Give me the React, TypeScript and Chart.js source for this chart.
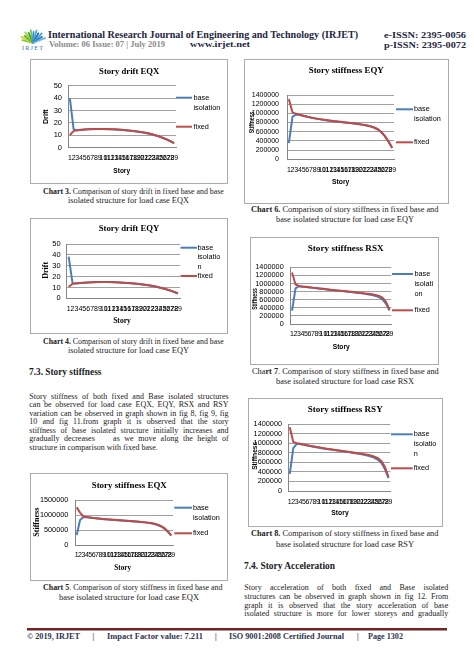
import React, { useEffect, useLayoutEffect, useRef, useState } from "react";
import { Chart, registerables } from "chart.js";

Chart.register(...registerables);

// ---------------- DATA ----------------
const STORIES = ["1","2","3","4","5","6","7","8","9","10","11","12","13","14","15","16","17","18","19","20","21","22","23","24","25","26","27","28","29"];
const SERIES_NAMES = ["base isolation", "fixed"];

const DRIFT_EQX_BASE = [40.0, 15.0, 14.0, 14.3, 14.6, 14.8, 14.9, 15.0, 15.0, 15.0, 14.9, 14.8, 14.7, 14.5, 14.3, 14.0, 13.7, 13.4, 13.0, 12.6, 12.1, 11.5, 10.8, 9.9, 8.9, 7.8, 6.6, 5.2, 3.5];
const DRIFT_EQX_FIXED = [10.2, 13.4, 14.0, 14.4, 14.7, 14.9, 15.0, 15.1, 15.1, 15.1, 15.0, 14.9, 14.8, 14.6, 14.4, 14.1, 13.8, 13.5, 13.1, 12.7, 12.2, 11.6, 10.9, 10.0, 9.0, 7.9, 6.7, 5.3, 3.6];

const DRIFT_EQY_BASE = [38.3, 13.8, 13.7, 14.0, 14.3, 14.5, 14.7, 14.8, 14.9, 14.9, 14.9, 14.8, 14.7, 14.5, 14.3, 14.1, 13.8, 13.5, 13.1, 12.7, 12.2, 11.6, 10.9, 10.1, 9.2, 8.2, 7.1, 5.8, 4.4];
const DRIFT_EQY_FIXED = [10.6, 13.3, 13.8, 14.1, 14.4, 14.6, 14.8, 14.9, 15.0, 15.0, 15.0, 14.9, 14.8, 14.6, 14.4, 14.2, 13.9, 13.6, 13.2, 12.8, 12.3, 11.7, 11.0, 10.2, 9.3, 8.3, 7.2, 5.9, 4.5];

const STIFF_EQX_BASE = [333000, 833000, 935000, 925000, 911000, 897000, 885000, 873000, 862000, 852000, 843000, 835000, 827000, 819000, 811000, 803000, 795000, 786000, 776000, 766000, 754000, 740000, 723000, 700000, 667000, 618000, 545000, 440000, 315000];
const STIFF_EQX_FIXED = [1255000, 1080000, 950000, 930000, 915000, 900000, 888000, 876000, 865000, 855000, 846000, 838000, 830000, 822000, 814000, 806000, 798000, 789000, 780000, 770000, 759000, 746000, 730000, 708000, 676000, 628000, 555000, 450000, 322000];

const STIFF_EQY_BASE = [350000, 930000, 975000, 963000, 944000, 925000, 907000, 891000, 877000, 864000, 852000, 841000, 831000, 821000, 812000, 803000, 794000, 785000, 775000, 764000, 752000, 737000, 719000, 692000, 655000, 595000, 505000, 385000, 245000];
const STIFF_EQY_FIXED = [1310000, 1020000, 990000, 968000, 948000, 928000, 910000, 894000, 880000, 867000, 855000, 844000, 834000, 824000, 815000, 806000, 797000, 788000, 778000, 767000, 755000, 740000, 722000, 697000, 660000, 600000, 510000, 390000, 250000];

const STIFF_RSX_BASE = [330000, 880000, 932000, 922000, 912000, 902000, 892000, 882000, 872000, 862000, 852000, 842000, 833000, 824000, 815000, 806000, 797000, 787000, 777000, 767000, 756000, 744000, 730000, 714000, 693000, 660000, 600000, 500000, 335000];
const STIFF_RSX_FIXED = [1270000, 975000, 940000, 928000, 918000, 908000, 898000, 888000, 878000, 868000, 858000, 848000, 839000, 830000, 821000, 812000, 803000, 794000, 785000, 776000, 766000, 756000, 745000, 733000, 718000, 695000, 645000, 545000, 355000];

const STIFF_RSY_BASE = [360000, 900000, 990000, 982000, 968000, 953000, 939000, 925000, 912000, 899000, 887000, 875000, 864000, 853000, 843000, 833000, 822000, 811000, 799000, 787000, 774000, 759000, 742000, 722000, 695000, 655000, 585000, 455000, 270000];
const STIFF_RSY_FIXED = [1340000, 1030000, 1005000, 990000, 975000, 960000, 946000, 932000, 919000, 906000, 894000, 882000, 871000, 861000, 851000, 841000, 831000, 821000, 810000, 799000, 787000, 774000, 760000, 744000, 722000, 690000, 625000, 500000, 290000];

// ---------------- STYLE ----------------
const SANS = '"Liberation Sans", Arial, sans-serif';
const SERIF = '"Liberation Serif", "Times New Roman", serif';
const BLUE = "#4a7ebb";
const RED = "#be4b48";

type Row = [string, number];
interface Spec {
  box: [number, number, number, number];
  plot: [number, number, number, number];
  title: [string, number, number, number];
  xTitle: [string, number, number, number, string];
  yTitle: [string, number, number, number, string];
  legend: { x1: number; x2: number; tx: number; base: Row[]; fixed: Row[] };
  yMax: number;
  yStep: number;
  tickSize: number;
  yPad: number;
  xPad: number;
  base: number[];
  fixed: number[];
}

const CHARTS: Spec[] = [
  {
    box: [30, 59, 228, 184], plot: [68, 85.7, 176, 147.7],
    title: ["Story drift EQX", 129.2, 71.3, 60.3],
    xTitle: ["Story", 121.7, 170.7, 16.7, SANS], yTitle: ["Drift", 46, 116.7, 14.7, SANS],
    legend: { x1: 176, x2: 192, tx: 193.5, base: [["base", 97.7], ["isolation", 107.7]], fixed: [["fixed", 126.7]] },
    yMax: 50, yStep: 10, tickSize: 7.5, yPad: 6, xPad: 6.5, base: DRIFT_EQX_BASE, fixed: DRIFT_EQX_FIXED,
  },
  {
    box: [30, 218, 228, 334], plot: [66.7, 244, 180, 298.3],
    title: ["Story drift EQY", 129, 229, 60.6],
    xTitle: ["Story", 122, 320.7, 17.7, SERIF], yTitle: ["Drift", 46, 270.3, 17, SERIF],
    legend: { x1: 180.5, x2: 197, tx: 197.5, base: [["base", 247.7], ["isolatio", 257.3], ["n", 267]], fixed: [["fixed", 276]] },
    yMax: 50, yStep: 10, tickSize: 7.5, yPad: 6, xPad: 6.2, base: DRIFT_EQY_BASE, fixed: DRIFT_EQY_FIXED,
  },
  {
    box: [30, 473, 228, 581], plot: [75, 500, 173, 545],
    title: ["Story stiffness EQX", 129.2, 485.7, 75],
    xTitle: ["Story", 122.7, 567.7, 16.7, SERIF], yTitle: ["Stiffness", 37, 522.2, 29, SERIF],
    legend: { x1: 174.3, x2: 192, tx: 193, base: [["base", 507.7], ["isolation", 517.7]], fixed: [["fixed", 533.3]] },
    yMax: 1500000, yStep: 500000, tickSize: 7.3, yPad: 6.7, xPad: 6.2, base: STIFF_EQX_BASE, fixed: STIFF_EQX_FIXED,
  },
  {
    box: [244, 59, 449, 204], plot: [287, 95, 394, 159.3],
    title: ["Story stiffness EQY", 346.2, 70.7, 75],
    xTitle: ["Story", 340.7, 181.7, 17.3, SANS], yTitle: ["Stiffness", 252.3, 122.5, 21.7, SANS],
    legend: { x1: 396, x2: 413, tx: 414, base: [["base", 109.3], ["isolation", 118.7]], fixed: [["fixed", 142.3]] },
    yMax: 1400000, yStep: 200000, tickSize: 7, yPad: 8, xPad: 6.9, base: STIFF_EQY_BASE, fixed: STIFF_EQY_FIXED,
  },
  {
    box: [250, 237, 439, 365], plot: [290.3, 267.3, 391.3, 324],
    title: ["Story stiffness RSX", 345.7, 249, 76],
    xTitle: ["Story", 341.2, 346.7, 17, SANS], yTitle: ["Stiffness", 254.8, 299, 21.7, SANS],
    legend: { x1: 392, x2: 413, tx: 414.5, base: [["base", 274], ["isolati", 283.7], ["on", 293.7]], fixed: [["fixed", 310.3]] },
    yMax: 1400000, yStep: 200000, tickSize: 7.3, yPad: 6.6, xPad: 5.5, base: STIFF_RSX_BASE, fixed: STIFF_RSX_FIXED,
  },
  {
    box: [248, 398, 443, 527], plot: [288, 424.3, 390.3, 491],
    title: ["Story stiffness RSY", 345.2, 410, 75],
    xTitle: ["Story", 340, 513.3, 17.4, SANS], yTitle: ["Stiffness", 254.8, 455.8, 28, SANS],
    legend: { x1: 391, x2: 412.7, tx: 413.7, base: [["base", 434.3], ["isolatio", 444], ["n", 453.7]], fixed: [["fixed", 468.3]] },
    yMax: 1400000, yStep: 200000, tickSize: 7.3, yPad: 6, xPad: 6.9, base: STIFF_RSY_BASE, fixed: STIFF_RSY_FIXED,
  },
];

// ---------------- CHART ----------------
function fitCanvasText(ctx: CanvasRenderingContext2D, text: string, cx: number, cy: number, w: number, font: string, rot = 0) {
  ctx.save();
  ctx.font = font;
  const m = ctx.measureText(text).width || 1;
  ctx.translate(cx, cy);
  if (rot) ctx.rotate(rot);
  ctx.scale(w / m, 1);
  ctx.textAlign = "center";
  ctx.textBaseline = "middle";
  ctx.fillStyle = "#000";
  ctx.fillText(text, 0, 0);
  ctx.restore();
}

function ChartBox({ spec, idx }: { spec: Spec; idx: number }) {
  const ref = useRef<HTMLCanvasElement>(null);
  const [bl, bt, br, bb] = spec.box;
  const W = br - bl;
  const H = bb - bt;
  useEffect(() => {
    const [pl, pt, pr, pb] = spec.plot;
    const decor = {
      id: "excelDecor" + idx,
      afterDraw(chart: any) {
        const ctx: CanvasRenderingContext2D = chart.ctx;
        const ox = bl, oy = bt;
        const [tt, tcx, tcy, tw] = spec.title;
        fitCanvasText(ctx, tt, tcx - ox, tcy - oy, tw, `bold 8.8px ${SERIF}`);
        const [xt, xcx, xcy, xw, xf] = spec.xTitle;
        fitCanvasText(ctx, xt, xcx - ox, xcy - oy, xw, `bold 7.5px ${xf}`);
        const [yt, ycx, ycy, yl, yf] = spec.yTitle;
        fitCanvasText(ctx, yt, ycx - ox, ycy - oy, yl, `bold 7.5px ${yf}`, -Math.PI / 2);
        const lg = spec.legend;
        const groups: [Row[], string][] = [[lg.base, BLUE], [lg.fixed, RED]];
        ctx.save();
        ctx.font = `7.3px ${SANS}`;
        ctx.textAlign = "left";
        ctx.textBaseline = "middle";
        for (const [rows, col] of groups) {
          ctx.strokeStyle = col;
          ctx.lineWidth = 2;
          ctx.beginPath();
          ctx.moveTo(lg.x1 - ox, rows[0][1] - oy);
          ctx.lineTo(lg.x2 - ox, rows[0][1] - oy);
          ctx.stroke();
          ctx.fillStyle = "#000";
          for (const [t, y] of rows) ctx.fillText(t, lg.tx - ox, y - oy);
        }
        ctx.restore();
      },
    };
    const leftW = pl - bl;
    const bottomH = bb - pb;
    const chart = new Chart(ref.current as HTMLCanvasElement, {
      type: "line",
      data: {
        labels: STORIES,
        datasets: [
          { label: SERIES_NAMES[0], data: spec.base, borderColor: BLUE, backgroundColor: BLUE, borderWidth: 2, pointRadius: 0, tension: 0, fill: false, order: 1 },
          { label: SERIES_NAMES[1], data: spec.fixed, borderColor: RED, backgroundColor: RED, borderWidth: 2, pointRadius: 0, tension: 0, fill: false, order: 0 },
        ],
      },
      options: {
        responsive: false,
        animation: false,
        events: [],
        layout: { padding: { left: 0, top: pt - bt, right: br - pr, bottom: 0 } },
        plugins: { legend: { display: false }, title: { display: false }, tooltip: { enabled: false } },
        scales: {
          x: {
            type: "category",
            offset: true,
            grid: { display: false, drawTicks: false },
            border: { display: true, color: "#868686", width: 1 },
            ticks: { autoSkip: false, maxRotation: 0, minRotation: 0, padding: spec.xPad, color: "#000", font: { size: 7, family: SANS } },
            afterFit: (s: any) => { s.height = bottomH; },
          },
          y: {
            min: 0,
            max: spec.yMax,
            grid: { color: "#a0a0a0", lineWidth: 1, drawTicks: false },
            border: { display: true, color: "#868686", width: 1 },
            ticks: { stepSize: spec.yStep, autoSkip: false, padding: spec.yPad, color: "#000", font: { size: spec.tickSize, family: SANS }, callback: (v: any) => String(v) },
            afterFit: (s: any) => { s.width = leftW; },
          },
        },
      } as any,
      plugins: [decor],
    });
    return () => chart.destroy();
  }, []);
  return (
    <div style={{ position: "absolute", left: bl, top: bt, width: W, height: H, border: "1px solid #ababab", boxSizing: "border-box", background: "#fff" }}>
      <canvas ref={ref} width={W} height={H} style={{ position: "absolute", left: -1, top: -1, width: W, height: H }} />
    </div>
  );
}

// ---------------- TEXT ----------------
type Seg = [string, boolean];
function Txt({ x, y, w, size, segs, family = SERIF, color = "#222", mode = "scale" }: { x: number; y: number; w?: number; size: number; segs: Seg[]; family?: string; color?: string; mode?: string }) {
  const ref = useRef<HTMLSpanElement>(null);
  const [adj, setAdj] = useState<{ ws?: number; sx?: number }>({});
  useLayoutEffect(() => {
    const el = ref.current;
    if (!el || w == null || mode === "none") return;
    const nat = el.getBoundingClientRect().width || 1;
    const text = segs.map((s) => s[0]).join("");
    const spaces = (text.match(/ /g) || []).length;
    if (mode === "justify" && nat < w && spaces > 0) setAdj({ ws: (w - nat) / spaces });
    else setAdj({ sx: w / nat });
  }, []);
  return (
    <div style={{ position: "absolute", left: x, top: y - 0.61 * size, whiteSpace: "pre", fontFamily: family, fontSize: size, lineHeight: `${size * 1.2}px`, color }}>
      <span ref={ref} style={{ display: "inline-block", wordSpacing: adj.ws ? `${adj.ws}px` : undefined, transform: adj.sx ? `scaleX(${adj.sx})` : undefined, transformOrigin: "0 0" }}>
        {segs.map(([t, b], i) => (
          <span key={i} style={{ fontWeight: b ? 700 : 400 }}>{t}</span>
        ))}
      </span>
    </div>
  );
}

const LEFT_PARA = [
  "Story stiffness of both fixed and Base isolated structures",
  "can be observed for load case EQX, EQY, RSX and RSY",
  "variation can be observed in graph shown in fig 8, fig 9, fig",
  "10 and fig 11.from graph it is observed that the story",
  "stiffness of base isolated structure initially increases and",
  "gradually decreases    as we move along the height of",
  "structure in comparison with fixed base.",
];
const LEFT_PARA_Y = [396.7, 405.3, 413.7, 422, 430.7, 439, 447.7];
const RIGHT_PARA = [
  "Story acceleration of both fixed and Base isolated",
  "structures can be observed in graph shown in fig 12. From",
  "graph it is observed that the story acceleration of base",
  "isolated structure is more for lower storeys and gradually",
];
const RIGHT_PARA_Y = [588.3, 597.3, 606, 614.3];

function Logo() {
  const rays = [
    [-165, "#8dc63f"], [-152, "#c8d42a"], [-139, "#5bb246"], [-126, "#a9cf38"], [-113, "#3d9b46"],
    [-100, "#7fc241"], [-87, "#2f8fcf"], [-74, "#55a8dc"], [-61, "#1f6fb5"], [-48, "#4aa3d8"], [-35, "#2a7dc0"], [-22, "#6cb6e2"],
  ] as [number, string][];
  return (
    <svg style={{ position: "absolute", left: 20, top: 26 }} width={26} height={25} viewBox="0 0 26 25">
      {rays.map(([a, c], i) => {
        const r = (a * Math.PI) / 180;
        const len = 11 + (i % 2) * 2;
        return <line key={i} x1={13} x2={13 + Math.cos(r) * len} y1={17} y2={17 + Math.sin(r) * len} stroke={c} strokeWidth={1.8} strokeLinecap="round" />;
      })}
      <text x={2} y={23.5} fontSize={6.2} fontFamily={SERIF} fill="#3a72b8" textLength={21}>IRJET</text>
    </svg>
  );
}

export default function App() {
  const navy = "#1d2540";
  return (
    <div style={{ position: "absolute", left: 0, top: 0, width: 474, height: 670, overflow: "hidden", background: "#fff" }}>
      <Logo />
      <Txt x={48} y={35.5} w={310} size={10.5} color={navy} segs={[["International Research Journal of Engineering and Technology (IRJET)", true]]} />
      <Txt x={384} y={35.5} w={82} size={8.5} color={navy} segs={[["e-ISSN: 2395-0056", true]]} />
      <Txt x={48.5} y={45.3} w={116} size={8} color="#8a8a8a" segs={[["Volume: 06 Issue: 07 | July 2019", true]]} />
      <Txt x={190} y={45.3} w={60} size={8} color={navy} segs={[["www.irjet.net", true]]} />
      <Txt x={384} y={45.3} w={82} size={8.5} color={navy} segs={[["p-ISSN: 2395-0072", true]]} />

      {CHARTS.map((s, i) => (
        <ChartBox key={i} spec={s} idx={i} />
      ))}

      <Txt x={43.3} y={191.7} w={180.7} size={8} segs={[["Chart 3.", true], [" Comparison of story drift in fixed base and base", false]]} />
      <Txt x={68.3} y={201} w={121} size={8} segs={[["isolated structure for load case EQX", false]]} />
      <Txt x={43.3} y={341.7} w={180.7} size={8} segs={[["Chart 4.", true], [" Comparison of story drift in fixed base and base", false]]} />
      <Txt x={68.3} y={351} w={121} size={8} segs={[["isolated structure for load case EQY", false]]} />
      <Txt x={43.3} y={588.3} w={179.4} size={8} segs={[["Chart 5", true], [". Comparison of story stiffness in fixed base and", false]]} />
      <Txt x={59.3} y={597.7} w={140} size={8} segs={[["base isolated structure for load case EQX", false]]} />
      <Txt x={251.3} y={210.3} w={187.4} size={8} segs={[["Chart 6.", true], [" Comparison of story stiffness in fixed base and", false]]} />
      <Txt x={276} y={219.7} w={138} size={8} segs={[["base isolated structure for load case EQY", false]]} />
      <Txt x={252} y={371.7} w={186.7} size={8} segs={[["Cha", false], ["rt 7", true], [". Comparison of story stiffness in fixed base and", false]]} />
      <Txt x={276} y={381.7} w={138} size={8} segs={[["base isolated structure for load case RSX", false]]} />
      <Txt x={251.3} y={534.3} w={187.4} size={8} segs={[["Chart 8.", true], [" Comparison of story stiffness in fixed base and", false]]} />
      <Txt x={276} y={545} w={138} size={8} segs={[["base isolated structure for load case RSY", false]]} />

      <Txt x={29.3} y={372.3} w={72.4} size={9.5} color="#1a1a1a" segs={[["7.3. Story stiffness", true]]} />
      {LEFT_PARA.map((t, i) => (
        <Txt key={"l" + i} x={29.3} y={LEFT_PARA_Y[i]} w={i === LEFT_PARA.length - 1 ? undefined : 199.3} size={8} mode={i === LEFT_PARA.length - 1 ? "none" : "justify"} segs={[[t, false]]} />
      ))}
      <Txt x={244.3} y={566.7} w={91} size={9.5} color="#1a1a1a" segs={[["7.4. Story Acceleration", true]]} />
      {RIGHT_PARA.map((t, i) => (
        <Txt key={"r" + i} x={244.3} y={RIGHT_PARA_Y[i]} w={204} size={8} mode="justify" segs={[[t, false]]} />
      ))}

      <div style={{ position: "absolute", left: 27, top: 627.8, width: 420, height: 2.4, background: "#7b1f22", boxShadow: "0 1px 0 #9a9a9a" }} />
      <Txt x={27} y={636.7} w={53} size={7.5} color="#2f3550" segs={[["© 2019, IRJET", true]]} />
      <Txt x={92.5} y={636.7} size={7.5} color="#2f3550" mode="none" segs={[["|", true]]} />
      <Txt x={107} y={636.7} w={96} size={7.5} color="#2f3550" segs={[["Impact Factor value: 7.211", true]]} />
      <Txt x={215} y={636.7} size={7.5} color="#2f3550" mode="none" segs={[["|", true]]} />
      <Txt x={229} y={636.7} w={115} size={7.5} color="#2f3550" segs={[["ISO 9001:2008 Certified Journal", true]]} />
      <Txt x={357} y={636.7} size={7.5} color="#2f3550" mode="none" segs={[["|", true]]} />
      <Txt x={368} y={636.7} w={35} size={7.5} color="#2f3550" segs={[["Page 1302", true]]} />
    </div>
  );
}
